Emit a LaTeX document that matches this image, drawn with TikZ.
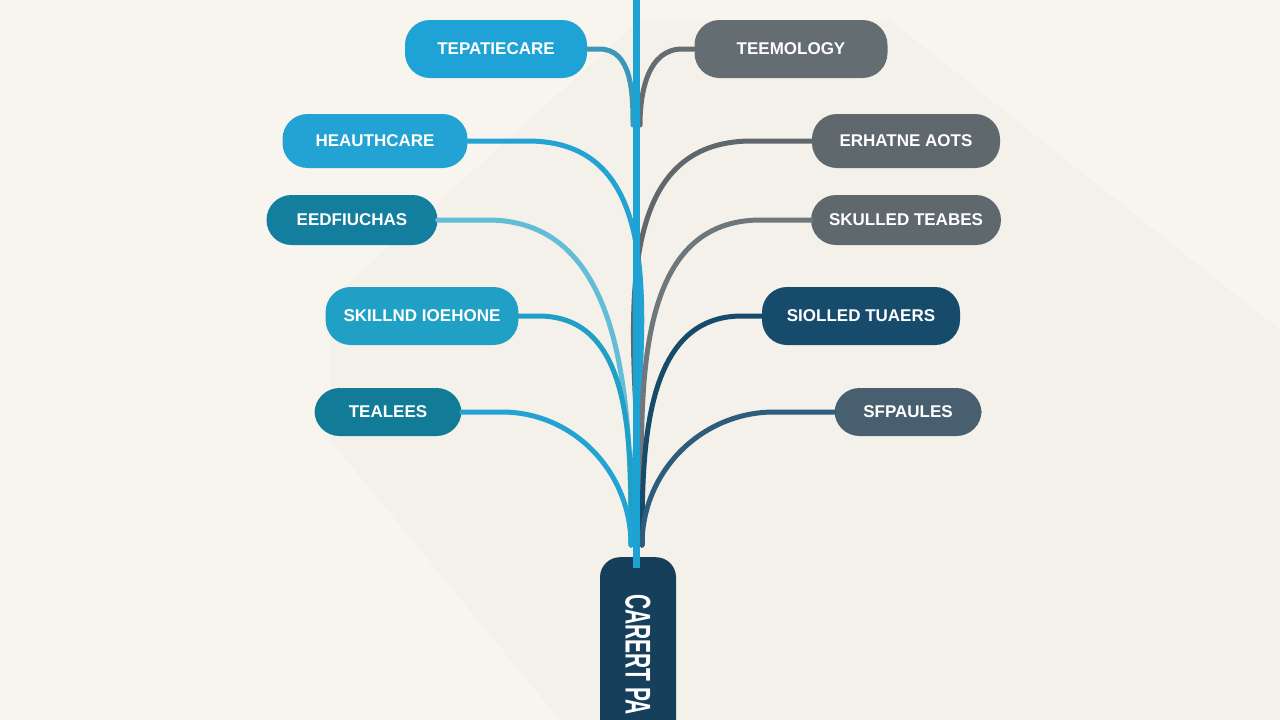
\documentclass[tikz,border=0pt]{standalone}
\usepackage{fontspec}
\setsansfont{Liberation Sans}
\usetikzlibrary{positioning}
\definecolor{paper}{HTML}{F7F5EE}
\definecolor{shadowtone}{HTML}{F3F1EA}
\definecolor{cyanA}{HTML}{1FA2D5}
\definecolor{cyanB}{HTML}{22A3D3}
\definecolor{cyanC}{HTML}{20A0C5}
\definecolor{tealA}{HTML}{137E9E}
\definecolor{tealB}{HTML}{127C98}
\definecolor{grayA}{HTML}{636D72}
\definecolor{grayB}{HTML}{5E686D}
\definecolor{navyA}{HTML}{174B6C}
\definecolor{navyB}{HTML}{163F5C}
\definecolor{slateA}{HTML}{475F6E}
\definecolor{trunk}{HTML}{1CA3D3}
\tikzset{
  pill/.style={rectangle, rounded corners=25pt, minimum height=54pt, inner xsep=18pt,
    text=white, font=\fontsize{17}{18}\selectfont\sffamily\bfseries},
  branch/.style={line width=5pt, line cap=round},
}
\begin{document}
\begin{tikzpicture}[x=1pt,y=-1pt]
  \fill[paper] (0,0) rectangle (1280,720);
  \useasboundingbox (0,0) rectangle (1280,720);
  \clip (0,0) rectangle (1280,720);
  % faint long shadow
  \fill[shadowtone] (890,20) -- (1280,330) -- (1280,720) -- (560,720) -- (330,440) -- (330,300) -- (640,20) -- cycle;
  % career box at the foot
  \node[rectangle, fill=navyB, rounded corners=20pt, minimum width=76pt, minimum height=220pt,
    anchor=north] (path) at (638,557) {};
  \node[rotate=-90, text=white, anchor=west, inner sep=0pt, font=\fontsize{21}{21}\selectfont\sffamily\bfseries]
    (pathtxt) at (638,594) {\scalebox{1}[1.7]{CARERT PA}};
  % merge points on the trunk
  \coordinate (top) at (636,0);
  \coordinate (root) at (636,568);
  \coordinate (jtl) at (633,125);
  \coordinate (jtr) at (640,125);
  \coordinate (jl) at (631,545);
  \coordinate (jr) at (642,545);
  % pills, left
  \node[pill, fill=cyanA, minimum width=182pt, minimum height=58pt] (l1) at (496,49) {TEPATIECARE};
  \node[pill, fill=cyanB, minimum width=185pt] (l2) at (375,141) {HEAUTHCARE};
  \node[pill, fill=tealA, minimum width=171pt, minimum height=50pt] (l3) at (352,220) {EEDFIUCHAS};
  \node[pill, fill=cyanC, minimum width=184pt, minimum height=58pt] (l4) at (422,316) {SKILLND IOEHONE};
  \node[pill, fill=tealB, minimum width=147pt, minimum height=48pt] (l5) at (388,412) {TEALEES};
  % pills, right
  \node[pill, fill=grayA, minimum width=193pt, minimum height=58pt] (r1) at (791,49) {TEEMOLOGY};
  \node[pill, fill=grayB, minimum width=188pt] (r2) at (906,141) {ERHATNE AOTS};
  \node[pill, fill=grayB, minimum width=177pt, minimum height=50pt] (r3) at (906,220) {SKULLED TEABES};
  \node[pill, fill=navyA, minimum width=198pt, minimum height=58pt] (r4) at (861,316) {SIOLLED TUAERS};
  \node[pill, fill=slateA, minimum width=147pt, minimum height=48pt] (r5) at (908,412) {SFPAULES};
  % branches
  \draw[branch, color=trunk!70!gray] (l1.east) -- ++(12,0) to[out=0,in=90] (jtl);
  \draw[branch, color=grayA] (r1.west) -- ++(-12,0) to[out=180,in=90] (jtr);
  \draw[branch, color=cyanB] (l2.east) -- ++(60,0) to[out=0,in=90] (jl);
  \draw[branch, color=cyanC!70!white] (l3.east) -- ++(50,0) to[out=0,in=90] (jl);
  \draw[branch, color=cyanC] (l4.east) -- ++(20,0) to[out=0,in=90] (jl);
  \draw[branch, color=cyanB] (l5.east) -- ++(40,0) to[out=0,in=90] (jl);
  \draw[branch, color=grayB] (r2.west) -- ++(-60,0) to[out=180,in=90] (jr);
  \draw[branch, color=grayB!90!white] (r3.west) -- ++(-50,0) to[out=180,in=90] (jr);
  \draw[branch, color=navyA] (r4.west) -- ++(-20,0) to[out=180,in=90] (jr);
  \draw[branch, color=navyA!90!white] (r5.west) -- ++(-60,0) to[out=180,in=90] (jr);
  % trunk
  \draw[line width=7pt, color=trunk] (top) -- (root);
\end{tikzpicture}
\end{document}
